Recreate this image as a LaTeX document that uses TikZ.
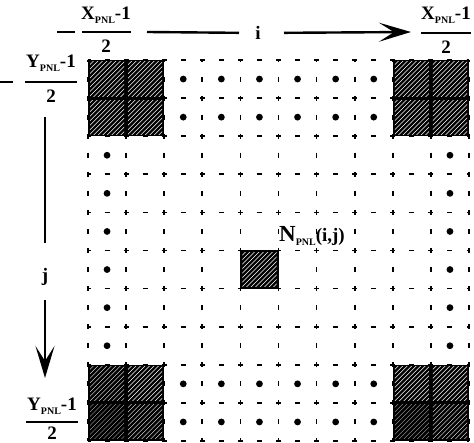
\documentclass[tikz,border=0pt]{standalone}
\usepackage{fontspec}
\setmainfont{Liberation Serif}
\usetikzlibrary{arrows.meta}
\newcommand\mysub[1]{\raisebox{-3.5pt}{\fontsize{10}{10}\selectfont #1}}
\newcommand\mydarkcell[3]{%
  \fill[black] (88+#1*38.1,60+#2*38.1) rectangle ++(38.1,38.1);
  \begin{scope}
    \clip (88+#1*38.1+2,60+#2*38.1+2) rectangle ++(34.1,34.1);
    \foreach \t in {-45,-40.5,...,45}
      \draw[white,line width=#3] (88+#1*38.1+19.05+\t-25, 60+#2*38.1+19.05+25) -- ++(50,-50);
  \end{scope}}
\begin{document}
\begin{tikzpicture}[x=1pt,y=-1pt,
  gridline/.style={line width=1.7pt, dash pattern=on 5pt off 14.05pt, dash phase=2.5pt},
  dotmark/.style={fill=black},
  lbl/.style={font=\bfseries\fontsize{19}{19}\selectfont, inner sep=0pt},
  bar/.style={line width=2.8pt},
  arr/.style={line width=2.4pt},
  tip/.style={-{Stealth[length=32pt,width=19pt,inset=15pt]}},
]
\useasboundingbox[fill=white] (0,0) rectangle (474,443);

% dashed grid
\foreach \k in {0,...,10} {
  \draw[gridline] (88+\k*38.1,60) -- (88+\k*38.1,441);
  \draw[gridline] (88,60+\k*38.1) -- (469,60+\k*38.1);
}

% dots
\foreach \c in {2,...,7} \foreach \r in {0,1,8,9}
  \fill[dotmark] (88+\c*38.1+19.05,60+\r*38.1+19.05) circle (3.4pt);
\foreach \c in {0,9} \foreach \r in {2,...,7}
  \fill[dotmark] (88+\c*38.1+19.05,60+\r*38.1+19.05) circle (3.4pt);

% dark boxes
\foreach \c in {0,1,8,9} \foreach \r in {0,1} \mydarkcell{\c}{\r}{0.5pt};
\foreach \c in {0,1,8,9} \mydarkcell{\c}{8}{0.45pt};
\foreach \c in {0,1,8,9} \mydarkcell{\c}{9}{0.25pt};
\mydarkcell{4}{5}{0.5pt}

% labels
\node[lbl] (fxln) at (106,15) {X\mysub{PNL}-1};
\node[lbl] (fxld) at (106,46) {2};
\draw[bar] (82,32) -- (131,32);
\node[lbl] (fxrn) at (446,15) {X\mysub{PNL}-1};
\node[lbl] (fxrd) at (446,47) {2};
\draw[bar] (421,33) -- (471,33);
\node[lbl] (fyln) at (51,63) {Y\mysub{PNL}-1};
\node[lbl] (fyld) at (51,96) {2};
\draw[bar] (25,82) -- (77,82);
\node[lbl] (fybn) at (52,406) {Y\mysub{PNL}-1};
\node[lbl] (fybd) at (52,433) {2};
\draw[bar] (26,422) -- (78,422);

\node[lbl] (i) at (258,33) {i};
\node[lbl] (j) at (45,277) {j};
\node[lbl,anchor=west] (n) at (279,236) {{\fontsize{23}{23}\selectfont N}\mysub{PNL}(i,j)};

% arrows
\coordinate (xa) at (57,32);
\coordinate (xb) at (75,32);
\coordinate (ia) at (147,32);
\coordinate (ib) at (411,32);
\coordinate (ya) at (0,82);
\coordinate (yb) at (13,82);
\coordinate (ja) at (45,117);
\coordinate (jb) at (45,378);
\draw[arr] (xa) -- (xb);
\draw[arr] (ya) -- (yb);
\draw[arr] (ia) -- (i.center) [shorten >=19pt];
\draw[arr,tip,shorten <=26pt] (i.center) -- (ib);
\draw[arr,shorten >=34pt] (ja) -- (j.center);
\draw[arr,tip,shorten <=23pt] (j.center) -- (jb);
\end{tikzpicture}
\end{document}
